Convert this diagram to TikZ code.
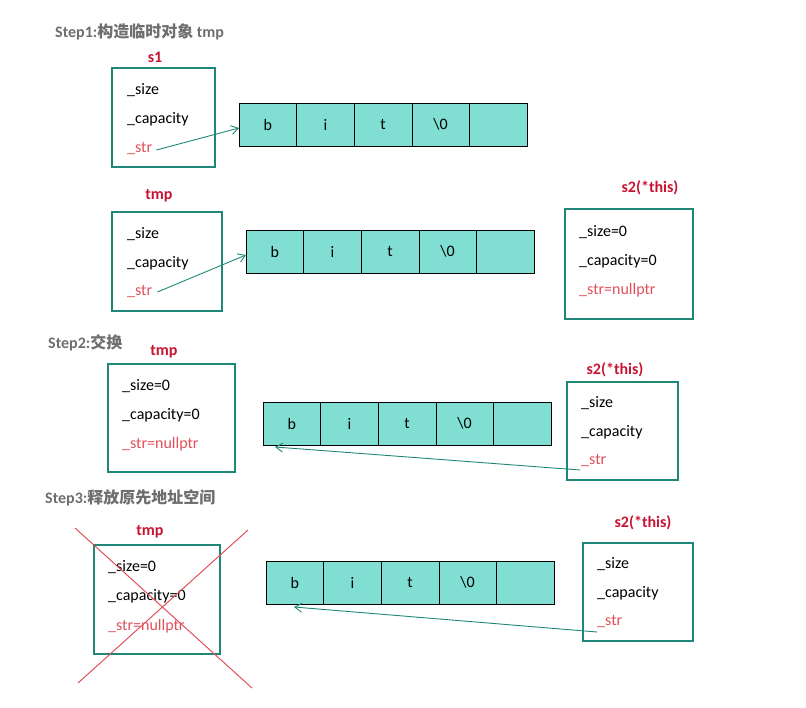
\documentclass[tikz,border=0pt]{standalone}
\usepackage{fontspec}
\setmainfont{Carlito}
\newfontfamily\cjk{Noto Sans CJK SC}
\usetikzlibrary{arrows.meta,calc}
\definecolor{tealc}{RGB}{30,135,120}
\definecolor{cellc}{RGB}{128,222,210}
\definecolor{redl}{RGB}{200,20,50}
\definecolor{strc}{RGB}{225,80,90}
\definecolor{grayt}{RGB}{110,110,110}
\tikzset{
 obox/.style={draw=tealc,line width=1.3pt},
 cell/.style={draw=black,fill=cellc,line width=0.6pt},
 ftxt/.style={anchor=west,font=\fontsize{16}{18}\selectfont,inner sep=0},
 stxt/.style={ftxt,text=strc},
 lbl/.style={font=\fontsize{16}{18}\selectfont\bfseries,text=redl,inner sep=0},
 head/.style={anchor=west,font=\fontsize{16}{18}\selectfont\bfseries,text=grayt,inner sep=0},
 ptr/.style={draw=tealc,line width=0.9pt,-{Straight Barb[length=7pt,width=9pt]}},
 celltxt/.style={font=\fontsize{16}{18}\selectfont,inner sep=0}
}
\newcommand{\arr}[3]{% name, x, y
 \foreach \k/\t in {0/b,1/i,2/t,3/\textbackslash0,4/{}}{
  \draw[cell] ({#2+57.6*\k},#3) rectangle ({#2+57.6*(\k+1)},{#3+43});
  \node[celltxt] at ({#2+57.6*\k+28.8},{#3+21.5}) {\t};}
 \coordinate (#1) at ({#2+32},{#3+43});
 \coordinate (#1w) at (#2,{#3+25});
}
\begin{document}
\begin{tikzpicture}[x=1pt,y=-1pt]
\useasboundingbox (0,0) rectangle (806,707);
\node[head] (h1) at (55,32) {Step1:{\cjk 构造临时对象} tmp};
\node[head] (h2) at (48,343) {Step2:{\cjk 交换}};
\node[head] (h3) at (45,498) {Step3:{\cjk 释放原先地址空间}};
% step1 s1
\node[lbl] (l1) at (155,57) {s1};
\draw[obox] (112,68) rectangle (215,167);
\node[ftxt] (a1) at (127,90) {\_size};
\node[ftxt] (b1) at (127,119) {\_capacity};
\node[stxt] (c1) at (127,149) {\_str};
\arr{A1}{239}{103}
\draw[ptr] (c1.east)++(4,1) -- (A1w);
% tmp
\node[lbl] (l2) at (159,196) {tmp};
\draw[obox] (112,212) rectangle (222,311);
\node[ftxt] (a2) at (127,234) {\_size};
\node[ftxt] (b2) at (127,263) {\_capacity};
\node[stxt] (c2) at (127,292) {\_str};
\arr{A2}{246}{230}
\draw[ptr] (c2.east)++(5,0) -- (A2w);
% s2
\node[lbl] (l3) at (650,188) {s2(*this)};
\draw[obox] (565,209) rectangle (693,319);
\node[ftxt] (a3) at (579,232) {\_size=0};
\node[ftxt] (b3) at (579,261) {\_capacity=0};
\node[stxt] (c3) at (579,290) {\_str=nullptr};
% step2
\node[lbl] (l4) at (164,352) {tmp};
\draw[obox] (108,364) rectangle (235,472);
\node[ftxt] (a4) at (122,386) {\_size=0};
\node[ftxt] (b4) at (122,415) {\_capacity=0};
\node[stxt] (c4) at (122,444) {\_str=nullptr};
\arr{A3}{263}{402}
\node[lbl] (l5) at (615,370) {s2(*this)};
\draw[obox] (567,382) rectangle (678,480);
\node[ftxt] (a5) at (581,403) {\_size};
\node[ftxt] (b5) at (581,432) {\_capacity};
\node[stxt] (c5) at (581,461) {\_str};
\coordinate (p5) at (580,470);
\draw[ptr] (p5) -- ($(A3)+(-20,2)$);
% step3
\node[lbl] (l6) at (150,532) {tmp};
\draw[obox] (94,545) rectangle (220,654);
\node[ftxt] (a6) at (108,567) {\_size=0};
\node[ftxt] (b6) at (108,596) {\_capacity=0};
\node[stxt] (c6) at (108,626) {\_str=nullptr};
\draw[strc,line width=1pt] (75,528) -- (252,688);
\draw[strc,line width=1pt] (78,683) -- (248,530);
\arr{A4}{266}{561}
\node[lbl] (l7) at (643,523) {s2(*this)};
\draw[obox] (583,543) rectangle (693,641);
\node[ftxt] (a7) at (597,564) {\_size};
\node[ftxt] (b7) at (597,593) {\_capacity};
\node[stxt] (c7) at (597,622) {\_str};
\coordinate (p7) at (597,632);
\draw[ptr] (p7) -- ($(A4)+(-4,3)$);
\end{tikzpicture}
\end{document}
